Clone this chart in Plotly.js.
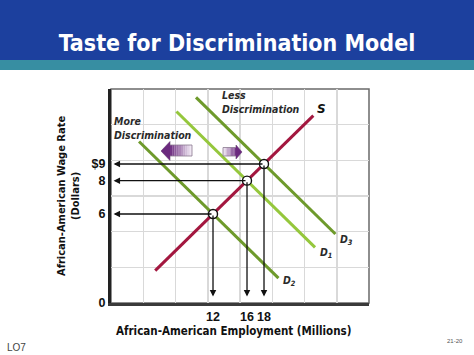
<!DOCTYPE html>
<html>
<head>
<meta charset="utf-8">
<script src="https://cdn.plot.ly/plotly-3.0.1.min.js"></script>
<style>html,body{margin:0;padding:0;background:#fff;}#chart{width:474px;height:355px;}</style>
</head>
<body>
<div id="chart"></div>
<script>
// ---- data ----
const sX = [5.2, 23.8];         // supply S  (w = 0.5 E)
const sY = [2.6, 11.9];
const d2X = [3.3, 19.7];        // demand D2 (more discrimination)
const d2Y = [10.35, 2.15];
const d1X = [7.7, 24.0];        // demand D1
const d1Y = [12.15, 4.0];
const d3X = [10.0, 26.4];       // demand D3 (less discrimination)
const d3Y = [13.0, 4.8];
const eqEmp = [12, 16, 18];     // equilibrium employment (millions)
const eqWage = [6, 8, 9];       // equilibrium wage ($)
const xTickVals = [12, 16, 18];
const xTickText = ['12', '16', '18'];
const yTickVals = [0.66, 6, 8, 9];
const yTickText = ['0', '6', '8', '$9'];

// ---- geometry helpers (pixel -> paper) ----
const L = 111, R = 369, T = 89, B = 303;
const PX = x => (x - L) / (R - L);
const PY = y => (B - y) / (B - T);

const red = '#a3173f', lightG = '#95c73c', darkG = '#6e9a2b';
const lineTrace = (x, y, c) => ({x, y, type: 'scatter', mode: 'lines', line: {color: c, width: 3}, hoverinfo: 'skip', showlegend: false});
const traces = [
  lineTrace(d2X, d2Y, darkG),
  lineTrace(d1X, d1Y, lightG),
  lineTrace(d3X, d3Y, darkG),
  lineTrace(sX, sY, red),
  {x: eqEmp, y: eqWage, type: 'scatter', mode: 'markers', showlegend: false, hoverinfo: 'skip',
   marker: {color: '#fff', size: 9, line: {color: '#111', width: 1.4}}}
];

const shapes = [];
// title bar
shapes.push({type: 'rect', xref: 'paper', yref: 'paper', x0: PX(-5), x1: PX(480), y0: PY(60), y1: PY(-5), fillcolor: '#1c409e', line: {width: 0}, layer: 'below'});
shapes.push({type: 'rect', xref: 'paper', yref: 'paper', x0: PX(-5), x1: PX(480), y0: PY(70), y1: PY(60), fillcolor: '#378ea2', line: {width: 0}, layer: 'below'});
// frame
shapes.push({type: 'rect', xref: 'paper', yref: 'paper', x0: 0, x1: 1, y0: 0, y1: 1, line: {color: '#6a6a6a', width: 1.5}, layer: 'below'});

// purple gradient arrows
function mix(a, b, t) {
  const pa = [parseInt(a.slice(1,3),16), parseInt(a.slice(3,5),16), parseInt(a.slice(5,7),16)];
  const pb = [parseInt(b.slice(1,3),16), parseInt(b.slice(3,5),16), parseInt(b.slice(5,7),16)];
  return 'rgb(' + pa.map((v,i) => Math.round(v + (pb[i]-v)*t)).join(',') + ')';
}
const purple = '#6b2a7e', pale = '#f6f0f8';
function blockArrow(tailX, baseX, tipX, bodyT, bodyB, headT, headB) {
  const n = 10;
  for (let i = 0; i < n; i++) {
    const xa = tailX + (baseX - tailX) * i / n, xb = tailX + (baseX - tailX) * (i + 1) / n;
    shapes.push({type: 'rect', xref: 'paper', yref: 'paper', x0: PX(Math.min(xa,xb)), x1: PX(Math.max(xa,xb)), y0: PY(bodyB), y1: PY(bodyT),
      fillcolor: mix(pale, purple, (i + 0.5) / n), line: {width: 0}});
  }
  shapes.push({type: 'path', xref: 'paper', yref: 'paper',
    path: `M${PX(tailX)},${PY(bodyT)} L${PX(baseX)},${PY(bodyT)} L${PX(baseX)},${PY(headT)} L${PX(tipX)},${PY((headT+headB)/2)} L${PX(baseX)},${PY(headB)} L${PX(baseX)},${PY(bodyB)} L${PX(tailX)},${PY(bodyB)} Z`,
    line: {color: '#8a7a90', width: 0.8}});
  shapes.push({type: 'path', xref: 'paper', yref: 'paper',
    path: `M${PX(baseX)},${PY(headT)} L${PX(tipX)},${PY((headT+headB)/2)} L${PX(baseX)},${PY(headB)} Z`,
    fillcolor: purple, line: {width: 0}});
}
blockArrow(192, 170, 161, 145, 156, 141.5, 160.5);
blockArrow(223, 236, 242, 147.5, 156, 145, 159);

const annotations = [];
// guide arrows
eqEmp.forEach((e, i) => {
  annotations.push({x: 0.3, y: eqWage[i], ax: e, ay: eqWage[i], xref: 'x', yref: 'y', axref: 'x', ayref: 'y',
    text: '', showarrow: true, arrowhead: 2, arrowsize: 1, arrowwidth: 1.3, arrowcolor: '#111'});
  annotations.push({x: e, y: 1.05, ax: e, ay: eqWage[i], xref: 'x', yref: 'y', axref: 'x', ayref: 'y',
    text: '', showarrow: true, arrowhead: 2, arrowsize: 1, arrowwidth: 1.3, arrowcolor: '#111'});
});
const lblFont = {family: 'DejaVu Sans Condensed, DejaVu Sans', size: 10.5, color: '#2a2a2a'};
const txt = (text, x, y, font, xanchor, yanchor, extra) => Object.assign({text, x: PX(x), y: PY(y), xref: 'paper', yref: 'paper', showarrow: false,
  font, xanchor: xanchor || 'center', yanchor: yanchor || 'middle', align: 'left'}, extra || {});
annotations.push(txt('<b><i>Less<br>Discrimination</i></b>', 220, 102, lblFont, 'left'));
annotations.push(txt('<b><i>More<br>Discrimination</i></b>', 112, 128, lblFont, 'left'));
annotations.push(txt('<b><i>S</i></b>', 321, 109, {family: 'DejaVu Sans', size: 12, color: '#111'}));
annotations.push(txt('<b><i>D<sub>3</sub></i></b>', 346, 240, lblFont));
annotations.push(txt('<b><i>D<sub>1</sub></i></b>', 326, 253, lblFont));
annotations.push(txt('<b><i>D<sub>2</sub></i></b>', 289, 281, lblFont));
annotations.push(txt('<b>African-American Employment (Millions)</b>', 233, 331, {family: 'DejaVu Sans Condensed, DejaVu Sans', size: 11.5, color: '#111'}));
annotations.push(txt('<b>African-American Wage Rate<br>(Dollars)</b>', 68, 196, {family: 'DejaVu Sans Condensed, DejaVu Sans', size: 11, color: '#111'}, 'center', 'middle', {textangle: -90, align: 'center'}));
annotations.push(txt('LO7', 5, 347, {family: 'Liberation Sans', size: 10, color: '#444'}, 'left'));
annotations.push(txt('21-20', 455, 341, {family: 'Liberation Sans', size: 6, color: '#555'}));

const layout = {
  width: 474, height: 355,
  margin: {l: L, r: 474 - R, t: T, b: 355 - B, pad: 0},
  paper_bgcolor: '#fff', plot_bgcolor: '#fff',
  title: {text: '<b>Taste for Discrimination Model</b>', x: 0.5, xref: 'container', xanchor: 'center', y: 1 - 43/355, yref: 'container', yanchor: 'middle',
          font: {family: 'DejaVu Sans Condensed, DejaVu Sans', size: 23, color: '#fff'}},
  showlegend: false,
  xaxis: {range: [0, 30.35], tickmode: 'array', tickvals: xTickVals, ticktext: xTickText, showgrid: false, zeroline: false,
          showline: true, linecolor: '#3a3a3a', linewidth: 3, ticks: '',
          tickfont: {family: 'Liberation Sans', size: 12.5, color: '#111', weight: 'bold'},
          minor: {tickmode: 'linear', tick0: 0, dtick: 30.35/8, showgrid: true, gridcolor: '#d9d9d9', gridwidth: 1.5, ticks: ''}},
  yaxis: {range: [0.66, 13.5], tickmode: 'array', tickvals: yTickVals, ticktext: yTickText, showgrid: false, zeroline: false,
          showline: true, linecolor: '#222', linewidth: 3, ticks: '',
          tickfont: {family: 'Liberation Sans', size: 12.5, color: '#111', weight: 'bold'},
          minor: {tickmode: 'linear', tick0: 0.66, dtick: (13.5-0.66)/6, showgrid: true, gridcolor: '#d9d9d9', gridwidth: 1.5, ticks: ''}},
  shapes, annotations
};
Plotly.newPlot('chart', traces, layout, {displayModeBar: false, staticPlot: true});
</script>
</body>
</html>
